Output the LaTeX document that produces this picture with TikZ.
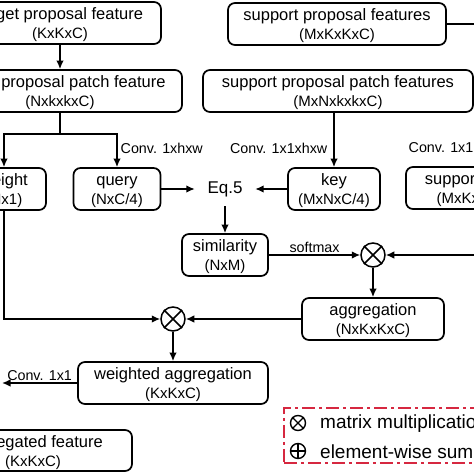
\documentclass[tikz,border=0pt]{standalone}
\usepackage{fontspec}
\setmainfont{Liberation Sans}
\usetikzlibrary{arrows.meta,calc}
\definecolor{legred}{RGB}{214,40,64}
\newcommand{\fa}{\fontsize{16.5}{19}\selectfont}
\newcommand{\fb}{\fontsize{15}{18}\selectfont}
\newcommand{\fl}{\fontsize{14.3}{17}\selectfont}
\newcommand{\fg}{\fontsize{19}{22}\selectfont}
\newcommand{\tstrut}{\rule{0pt}{15.5pt}}
\begin{document}
\begin{tikzpicture}[x=1pt,y=-1pt,
 box/.style={draw, line width=1.7pt, rounded corners=7pt, align=center, inner sep=0pt, minimum height=42pt, font=\fa},
 arr/.style={line width=1.5pt, -{Latex[length=8.5pt,width=7.5pt]}},
 ln/.style={line width=1.5pt},
 lab/.style={font=\fl, inner sep=1.5pt},
 otimes/.style={draw, circle, line width=1.5pt, minimum size=24pt, inner sep=0pt},
 legsym/.style={draw, circle, line width=1.4pt, minimum size=15pt, inner sep=0pt},
 legtxt/.style={font=\fg, anchor=west, inner sep=2pt},
]
\useasboundingbox (0,0) rectangle (474,474);
\clip (0,0) rectangle (474,474);

\node[box, minimum width=202pt] (tgt) at (60,23) {\tstrut target proposal feature\\{\fb (KxKxC)}};
\node[box, minimum width=244pt] (patch) at (60,91) {\tstrut target proposal patch feature\\{\fb (NxkxkxC)}};
\node[box, minimum width=218pt] (sup) at (337,24) {\tstrut support proposal features\\{\fb (MxKxKxC)}};
\node[box, minimum width=270pt] (sppatch) at (338,91) {\tstrut support proposal patch features\\{\fb (MxNxkxkxC)}};
\node[box, minimum width=84pt] (weight) at (4,189) {\tstrut weight\\{\fb (Nx1)}};
\node[box, minimum width=87pt] (query) at (117,189) {\tstrut query\\{\fb (NxC/4)}};
\node[box, minimum width=92pt] (key) at (334,189) {\tstrut key\\{\fb (MxNxC/4)}};
\node[box, minimum width=137pt] (supv) at (474.5,188) {\tstrut support value\\{\fb (MxKxKxC)}};
\node[font=\fontsize{17}{20}\selectfont, minimum width=60pt, minimum height=34pt, inner sep=0pt] (eq) at (225,189) {Eq.5};
\node[box, minimum width=86pt] (sim) at (225,255) {\tstrut similarity\\{\fb (NxM)}};
\node[otimes] (m2) at (373,255) {};
\node[box, minimum width=142pt] (agg) at (373,319) {\tstrut aggregation\\{\fb (NxKxKxC)}};
\node[otimes] (m1) at (173,319) {};
\node[box, minimum width=190pt] (wagg) at (173,383) {\tstrut weighted aggregation\\{\fb (KxKxC)}};
\node[box, minimum width=198pt, minimum height=41pt] (aggf) at (33,450.5) {\tstrut aggregated feature\\{\fb (KxKxC)}};

\foreach \m in {m1,m2} {\draw[line width=1.5pt] (\m.45) -- (\m.225) (\m.135) -- (\m.315);}

\draw[arr] (tgt.south) -- (patch.north);
\coordinate (split) at ($(patch.south)+(0,21)$);
\draw[ln] (patch.south) -- (split);
\draw[arr] (split) -| (weight.north);
\draw[arr] (split) -| (query.north);
\node[lab, anchor=west] (c1) at (119,148) {Conv. 1xhxw};
\draw[arr] (sppatch.south -| key.north) -- (key.north);
\node[lab, anchor=east] (c2) at (329,148) {Conv. 1x1xhxw};
\node[lab, anchor=west] (c3) at (407,148) {Conv. 1x1};
\coordinate (supout) at (500,24);
\draw[ln] (sup.east) -- (supout);
\draw[arr] (query.east) -- (eq.west);
\draw[arr] (key.west) -- (eq.east);
\draw[arr] (eq.south) -- (sim.north);
\draw[arr] (sim.east) -- (m2.west) node[midway, above, lab] (sm) {softmax};
\coordinate (vin) at (500,255);
\draw[arr] (vin) -- (m2.east);
\draw[arr] (m2.south) -- (agg.north);
\draw[arr] (agg.west) -- (m1.east);
\draw[arr] (weight.south) |- (m1.west);
\draw[arr] (m1.south) -- (wagg.north);
\coordinate (wout) at (2,383);
\draw[arr] (wagg.west) -- (wout) node[midway, above, lab] (c4) {Conv. 1x1};

\node[draw=legred, line width=1.6pt, dash pattern=on 13pt off 4pt on 3pt off 4pt, minimum width=240pt, minimum height=55pt, anchor=north west, inner sep=0pt] (leg) at (283,407) {};
\node[legsym] (lm) at (298,423) {};
\draw[line width=1.4pt] (lm.45) -- (lm.225) (lm.135) -- (lm.315);
\node[legtxt] (lmt) at (318,424) {matrix multiplication};
\node[legsym] (ls) at (298,451) {};
\draw[line width=1.4pt] (ls.north) -- (ls.south) (ls.east) -- (ls.west);
\node[legtxt] (lst) at (318,452) {element-wise sum};
\end{tikzpicture}
\end{document}
